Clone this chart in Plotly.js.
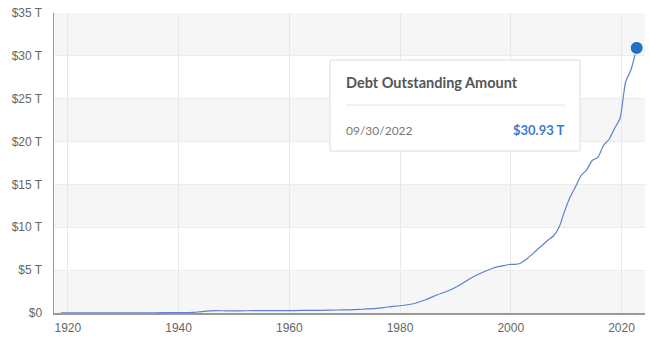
<!DOCTYPE html>
<html><head><meta charset="utf-8">
<script src="https://cdn.plot.ly/plotly-3.0.1.min.js"></script>
<style>html,body{margin:0;padding:0;background:#fff}#chart{width:650px;height:343px}</style>
</head><body><div id="chart"></div>
<script>
// Debt outstanding (trillions USD), fiscal year-end
const years = [1918,1919,1920,1922,1925,1928,1930,1932,1935,1938,1940,1941,1942,1943,1944,1945,1946,1948,1950,1953,1955,1958,1960,1963,1965,1968,1970,1972,1975,1977,1980,1982,1984,1986,1988,1990,1992,1994,1996,1997,1998,1999,2000,2001,2002,2003,2004,2005,2006,2007,2008,2009,2010,2011,2012,2013,2014,2015,2016,2017,2018,2019,2020,2021,2022];
const debt  = [0.012,0.025,0.024,0.023,0.021,0.018,0.016,0.019,0.029,0.037,0.043,0.049,0.072,0.137,0.201,0.259,0.269,0.252,0.257,0.266,0.274,0.276,0.286,0.306,0.317,0.348,0.371,0.427,0.533,0.699,0.908,1.14,1.57,2.13,2.6,3.23,4.06,4.69,5.22,5.41,5.53,5.66,5.67,5.81,6.23,6.78,7.38,7.93,8.51,9.01,10.02,11.91,13.56,14.79,16.07,16.74,17.82,18.15,19.57,20.24,21.52,22.72,26.95,28.43,30.93];
const yTickVals = [0,5,10,15,20,25,30,35];
const yTickText = ["$0","$5 T","$10 T","$15 T","$20 T","$25 T","$30 T","$35 T"];
const xTickYears = [1920,1940,1960,1980,2000,2020];
const tooltipTitle = "Debt Outstanding Amount";
const tooltipDate = "09/30/2022";
const tooltipValue = "$30.93 T";

const dates = years.map(y => y + "-09-30");
const lastDate = dates[dates.length-1], lastVal = debt[debt.length-1];

const shapes = [];
for (let i = 0; i < yTickVals.length-1; i++) {
  if (i % 2 === 0) shapes.push({type:'rect', xref:'paper', yref:'y', x0:0, x1:1, y0:yTickVals[i], y1:yTickVals[i+1], fillcolor:'#f6f6f6', line:{width:0}, layer:'below'});
}
shapes.push({type:'rect', xref:'paper', yref:'paper', x0:0.467, x1:0.890, y0:0.54, y1:0.843, fillcolor:'#ffffff', line:{color:'#dcdcdc', width:1}, layer:'above'});
shapes.push({type:'line', xref:'paper', yref:'paper', x0:0.494, x1:0.865, y0:0.693, y1:0.693, line:{color:'#e2e2e2', width:1}, layer:'above'});

const traces = [
  {x: dates, y: debt, type:'scatter', mode:'lines', line:{color:'#5b82d0', width:1.2, shape:'spline', smoothing:0.6}, hoverinfo:'skip'},
  {x: [lastDate], y: [lastVal], type:'scatter', mode:'markers', marker:{color:'#1f72c6', size:13, line:{color:'#ffffff', width:1}}, hoverinfo:'skip'}
];

const layout = {
  width:650, height:343,
  margin:{l:54, r:5, t:13, b:30},
  paper_bgcolor:'#fff', plot_bgcolor:'#fff',
  showlegend:false,
  font:{family:'Liberation Sans, Arial, sans-serif', color:'#666', size:12},
  xaxis:{type:'date', range:['1917-07-01','2024-04-01'], tickvals: xTickYears.map(y=>y+'-01-01'), ticktext: xTickYears.map(String),
         showgrid:true, gridcolor:'#e8e8e8', gridwidth:1, zeroline:false, showline:true, linecolor:'#999', linewidth:1.5, ticks:'', ticklabelstandoff:3, tickfont:{size:12, color:'#666'}},
  yaxis:{range:[0,35], tickvals:yTickVals, ticktext:yTickText, showgrid:true, gridcolor:'#ececec', zeroline:false,
         showline:true, linecolor:'#999', linewidth:1.5, ticks:'', ticklabelstandoff:8, tickfont:{size:12, color:'#666'}},
  shapes: shapes,
  annotations:[
    {xref:'paper', yref:'paper', x:0.491, y:0.767, xanchor:'left', yanchor:'middle', text:'<b>'+tooltipTitle+'</b>', showarrow:false, font:{family:'Lato, Noto Sans, sans-serif', size:14.5, color:'#555'}},
    {xref:'paper', yref:'paper', x:0.491, y:0.61, xanchor:'left', yanchor:'middle', text:tooltipDate, showarrow:false, font:{family:'Lato, Noto Sans, sans-serif', size:12, color:'#777'}},
    {xref:'paper', yref:'paper', x:0.868, y:0.61, xanchor:'right', yanchor:'middle', text:'<b>'+tooltipValue+'</b>', showarrow:false, font:{family:'Lato, Noto Sans, sans-serif', size:13, color:'#3a7bd5'}}
  ]
};
Plotly.newPlot('chart', traces, layout, {displayModeBar:false, staticPlot:true});
</script></body></html>
